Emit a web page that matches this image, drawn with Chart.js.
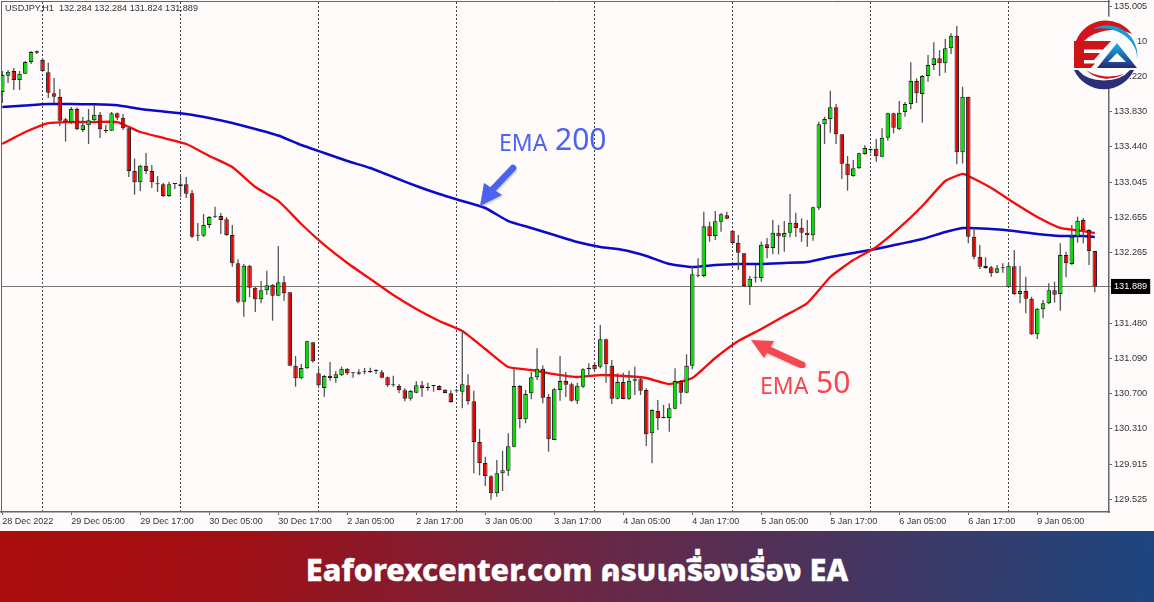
<!DOCTYPE html>
<html>
<head>
<meta charset="utf-8">
<title>USDJPY H1</title>
<script src="https://cdn.jsdelivr.net/npm/chart.js@4"></script>
<style>
  html, body { margin: 0; padding: 0; background: #fefbfa; overflow: hidden; }
  #stage { position: relative; width: 1154px; height: 602px; }
  #chartWrap { position: absolute; left: 0; top: 0; width: 1154px; height: 531px; }
  #info { position: absolute; left: 5px; top: 3px; font: 9.1px "Liberation Sans", sans-serif; color: #333; white-space: pre; }
  .note { position: absolute; font-family: "Noto Sans", sans-serif; white-space: pre; line-height: 1; }
  #overlay { position: absolute; left: 0; top: 0; }
  #banner {
    position: absolute; left: 0; top: 531px; width: 1154px; height: 71px;
    background: linear-gradient(95deg, #ab0d0d 0%, #a10f14 20%, #6f2541 48%, #1c4680 100%);
    color: #fff; font: 800 30.6px "Noto Sans", "Noto Sans Thai", "DejaVu Sans", sans-serif;
    -webkit-text-stroke: 0.4px #fff;
    text-align: center; line-height: 76px; white-space: pre;
  }
</style>
</head>
<body>
<div id="stage">
  <div id="chartWrap"><canvas id="chart" width="1154" height="531"></canvas></div>
  <div id="info">USDJPY,H1  132.284 132.284 131.824 131.889</div>
  <div class="note" style="left:499px;top:131px;color:#4a63f0;font-size:23px">EMA</div>
  <div class="note" style="left:555px;top:124px;color:#4a63f0;font-size:30px">200</div>
  <div class="note" style="left:760px;top:374px;color:#f8454f;font-size:23px">EMA</div>
  <div class="note" style="left:816px;top:367px;color:#f8454f;font-size:30px">50</div>
  <svg id="overlay" width="1154" height="602">
    <defs>
      <linearGradient id="aGrad" x1="0" y1="0" x2="0" y2="1">
        <stop offset="0" stop-color="#19b6e6"/>
        <stop offset="0.6" stop-color="#1c5fa8"/>
        <stop offset="1" stop-color="#26286e"/>
      </linearGradient>
      <filter id="soft"><feDropShadow dx="1" dy="1" stdDeviation="1" flood-color="#888" flood-opacity="0.5"/></filter>
    </defs>
    <g filter="url(#soft)" fill="#4a63f0">
      <line x1="513" y1="168" x2="493" y2="189" stroke="#4a63f0" stroke-width="6.5" stroke-linecap="round"/>
      <polygon points="480,206 484,183 502,195"/>
    </g>
    <g filter="url(#soft)" fill="#f54650">
      <line x1="802" y1="365" x2="769" y2="350" stroke="#f54650" stroke-width="7" stroke-linecap="round"/>
      <polygon points="751,340 774,341 764,358"/>
    </g>
    <circle cx="1102.5" cy="52" r="36" fill="#fefdfd"/>
    <path d="M1076 41 A32 32 0 0 1 1132 34 A38 31 0 0 0 1084 41 Z" fill="#d3141b"/>
    <path d="M1093 29 A30 30 0 0 1 1137 60 A36 30 0 0 0 1093 29 Z" fill="#1a9ad6"/>
    <path d="M1074 70 A33 33 0 0 0 1134 70 L1130 70 A30 21 0 0 1 1078 70 Z" fill="#2a2f78"/>
    <path d="M1086 70 A27 22 0 0 0 1124 74 A30 18 0 0 1 1086 70 Z" fill="#d3141b"/>
    <path d="M1074 41 H1111 L1103 49.5 H1084 V53 H1100 L1094 60 H1084 V63.5 H1095 L1091 68 H1074 Z" fill="#cf1418"/>
    <path d="M1117 43 L1137 68 H1097 Z M1117 53 L1108 62 H1126 Z" fill="url(#aGrad)" fill-rule="evenodd"/>
  </svg>
  <div id="banner">Eaforexcenter.com ครบเครื่องเรื่อง EA</div>
</div>

<script>
const open = [
  134.050,134.231,134.283,134.183,134.253,134.383,134.502,134.405,134.269,134.035,
  133.994,133.746,133.713,133.861,133.628,133.680,133.735,133.798,133.624,133.620,
  133.813,133.764,133.646,133.172,133.046,133.231,133.172,133.035,133.024,132.894,
  133.028,133.005,133.024,132.924,132.453,132.453,132.572,132.664,132.672,132.635,
  132.461,132.146,131.720,132.120,131.875,131.746,131.846,131.909,131.786,131.935,
  131.824,131.009,130.869,130.980,131.269,130.924,130.761,130.898,130.872,130.902,
  130.975,130.924,130.920,130.935,130.935,130.950,130.935,130.880,130.791,130.783,
  130.735,130.642,130.709,130.791,130.761,130.783,130.783,130.742,130.702,130.724,
  130.720,130.791,130.613,130.161,129.928,129.780,129.591,129.813,129.842,130.109,
  130.783,130.413,130.702,130.880,130.975,130.661,130.183,130.739,130.839,130.802,
  130.620,130.775,130.969,131.016,130.998,131.302,131.009,130.642,130.828,130.642,
  130.842,130.858,130.739,130.258,130.505,130.428,130.428,130.531,130.839,130.709,
  131.009,132.009,132.005,132.558,132.450,132.609,132.680,132.509,132.375,132.258,
  131.886,131.986,131.983,132.358,132.316,132.486,132.442,132.486,132.597,132.542,
  132.486,132.458,132.764,133.691,133.750,133.880,133.580,133.253,133.116,133.202,
  133.361,133.405,133.420,133.331,133.542,133.813,133.635,133.828,133.916,134.172,
  134.028,134.228,134.350,134.424,134.369,134.535,134.675,133.380,133.998,132.442,
  132.220,132.116,132.102,132.042,132.091,131.886,132.113,131.805,131.839,131.753,
  131.358,131.635,131.702,131.846,131.805,132.239,132.139,132.442,132.628,132.516,132.284
];
const high = [
  134.283,134.294,134.316,134.283,134.394,134.505,134.511,134.428,134.375,134.205,
  134.083,133.761,133.883,133.878,133.772,133.861,133.905,133.828,133.683,133.828,
  133.822,133.805,133.661,133.309,133.242,133.372,133.239,133.116,133.039,133.053,
  133.039,133.116,133.105,132.961,132.594,132.694,132.672,132.775,132.705,132.661,
  132.572,132.191,132.139,132.128,131.883,131.950,132.064,131.916,132.339,132.005,
  131.828,131.116,131.028,131.286,131.272,130.980,130.905,131.050,130.950,130.998,
  130.980,130.939,130.969,130.983,130.986,130.969,130.961,130.887,130.898,130.805,
  130.757,130.739,130.835,130.839,130.820,130.791,130.791,130.746,130.735,130.750,
  131.405,130.913,130.731,130.305,129.998,129.791,129.961,130.064,130.257,130.969,
  130.794,130.739,130.942,131.202,131.011,130.694,130.761,131.116,130.939,130.820,
  130.820,130.980,131.035,131.046,131.461,131.309,131.072,130.924,130.931,130.953,
  130.998,130.887,130.757,130.524,130.628,130.572,130.591,130.980,130.850,131.135,
  132.109,132.202,132.720,132.609,132.728,132.702,132.720,132.516,132.461,132.261,
  132.005,132.128,132.386,132.428,132.628,132.572,132.616,132.916,132.709,132.646,
  132.628,132.775,133.720,133.775,134.064,133.916,133.583,133.339,133.294,133.375,
  133.458,133.424,133.528,133.646,133.820,133.820,133.950,133.939,134.380,134.202,
  134.239,134.461,134.602,134.516,134.639,134.702,134.783,134.109,133.998,132.535,
  132.350,132.213,132.116,132.128,132.146,132.146,132.294,132.116,131.998,131.775,
  131.650,131.739,131.924,131.942,132.369,132.275,132.572,132.664,132.650,132.524,132.284
];
const low = [
  133.928,134.150,134.072,134.072,134.250,134.361,134.472,134.272,133.983,133.928,
  133.672,133.498,133.694,133.628,133.605,133.472,133.716,133.539,133.594,133.616,
  133.739,133.628,133.105,132.909,132.950,133.139,132.983,132.939,132.886,132.883,
  132.972,132.883,132.872,132.428,132.394,132.439,132.539,132.650,132.472,132.450,
  132.109,131.702,131.553,131.769,131.605,131.702,131.797,131.509,131.783,131.731,
  131.005,130.775,130.858,130.972,131.042,130.775,130.664,130.842,130.820,130.894,
  130.905,130.875,130.905,130.913,130.928,130.916,130.869,130.772,130.775,130.702,
  130.613,130.620,130.702,130.664,130.731,130.720,130.735,130.702,130.598,130.709,
  130.535,130.575,129.813,129.791,129.672,129.520,129.553,129.616,129.783,130.102,
  130.313,130.369,130.635,130.850,130.591,130.053,130.183,130.620,130.661,130.609,
  130.583,130.761,130.887,130.950,130.980,130.820,130.583,130.635,130.635,130.628,
  130.683,130.683,130.116,129.924,130.294,130.424,130.275,130.524,130.580,130.702,
  130.969,131.991,131.991,132.386,132.405,132.497,132.635,132.350,132.072,131.883,
  131.683,131.931,131.942,132.202,132.247,132.247,132.275,132.435,132.439,132.386,
  132.331,132.398,132.739,133.472,133.598,133.472,133.083,132.953,133.109,133.194,
  133.353,133.369,133.275,133.324,133.509,133.591,133.628,133.775,133.858,133.928,
  133.709,134.164,134.294,134.228,134.264,134.472,133.246,133.257,132.369,132.191,
  132.083,132.086,131.998,132.035,132.042,131.880,131.794,131.702,131.591,131.350,
  131.305,131.535,131.694,131.709,131.620,131.991,132.128,132.375,132.369,132.128,131.824
];
const close = [
  134.239,134.275,134.183,134.253,134.383,134.494,134.486,134.283,134.042,133.998,
  133.731,133.713,133.861,133.635,133.680,133.735,133.798,133.635,133.616,133.813,
  133.764,133.646,133.172,133.046,133.231,133.172,133.046,133.024,132.894,133.024,
  133.028,133.024,132.920,132.442,132.453,132.572,132.661,132.664,132.628,132.461,
  132.146,131.720,132.120,131.875,131.746,131.846,131.902,131.786,131.935,131.813,
  131.009,130.869,130.983,131.280,131.058,130.791,130.894,130.872,130.913,130.975,
  130.924,130.924,130.935,130.935,130.950,130.950,130.875,130.791,130.791,130.735,
  130.642,130.728,130.791,130.761,130.775,130.783,130.739,130.705,130.605,130.724,
  130.802,130.613,130.161,129.928,129.783,129.591,129.813,129.847,130.113,130.783,
  130.416,130.694,130.880,130.975,130.653,130.191,130.746,130.839,130.798,130.620,
  130.786,130.969,130.986,130.969,131.302,131.024,130.642,130.828,130.639,130.842,
  130.858,130.731,130.246,130.516,130.424,130.428,130.535,130.839,130.709,131.009,
  132.024,132.009,132.558,132.450,132.613,132.691,132.642,132.372,132.264,131.894,
  131.975,131.986,132.353,132.316,132.486,132.446,132.483,132.597,132.539,132.486,
  132.458,132.769,133.691,133.750,133.880,133.580,133.253,133.124,133.202,133.369,
  133.428,133.405,133.335,133.542,133.813,133.653,133.820,133.916,134.172,134.035,
  134.228,134.350,134.424,134.369,134.535,134.675,133.380,133.998,132.442,132.220,
  132.109,132.094,132.035,132.091,132.091,132.120,131.805,131.839,131.753,131.358,
  131.642,131.702,131.846,131.797,132.239,132.146,132.442,132.620,132.516,132.284,131.889
];

// bars the two EMA lines were read at
const emaBars = [
  0,4,8,12,16,20,24,28,32,36,40,44,48,52,56,60,64,68,72,76,80,84,88,92,96,
  100,104,108,112,116,120,124,128,132,136,140,144,148,152,156,160,164,167,168,172,176,180,184,188,190
];
const ema50 = [
  133.472,133.605,133.705,133.716,133.716,133.716,133.605,133.539,133.472,133.339,
  133.216,132.994,132.839,132.583,132.350,132.150,131.972,131.794,131.639,131.505,
  131.394,131.194,130.994,130.961,130.916,130.883,130.905,130.894,130.872,130.805,
  130.872,131.094,131.283,131.416,131.561,131.705,131.994,132.183,132.328,132.539,
  132.783,133.061,133.139,133.116,132.983,132.816,132.661,132.539,132.505,132.483
];
const ema200 = [
  133.883,133.900,133.916,133.916,133.913,133.902,133.861,133.833,133.805,133.761,
  133.705,133.639,133.566,133.461,133.372,133.283,133.205,133.105,133.005,132.916,
  132.839,132.761,132.616,132.539,132.461,132.383,132.328,132.294,132.228,132.139,
  132.105,132.128,132.139,132.139,132.150,132.161,132.216,132.261,132.305,132.361,
  132.416,132.494,132.539,132.539,132.528,132.505,132.472,132.450,132.450,132.439
];

const timeLabels = [
  "28 Dec 2022","29 Dec 05:00","29 Dec 17:00","30 Dec 05:00","30 Dec 17:00","2 Jan 05:00","2 Jan 17:00","3 Jan 05:00",
  "3 Jan 17:00","4 Jan 05:00","4 Jan 17:00","5 Jan 05:00","5 Jan 17:00","6 Jan 05:00","6 Jan 17:00","9 Jan 05:00"
];
const timeBars = [0,12,24,36,48,60,72,84,96,108,120,132,144,156,168,180];
const dayLineBars = [7,31,55,79,103,127,151,175];
const priceTicks = [135.005,134.610,134.220,133.830,133.440,133.045,132.655,132.265,131.889,131.480,131.090,130.700,130.310,129.915,129.525];
const lastPrice = 131.889;

const priceMin = 129.383, priceMax = 135.061;
const barMin = -0.226, barMax = 192.47;

Chart.defaults.font.family = '"Liberation Sans", sans-serif';
Chart.defaults.font.size = 9.2;
Chart.defaults.color = "#333";

function fixedBox(prop, size) {
  return function (scale) {
    scale[prop] = size;
    scale.paddingLeft = scale.paddingRight = scale.paddingTop = scale.paddingBottom = 0;
  };
}

const bars = open.map((_, i) => i);
const upColor = "#00e000", downColor = "#ee0000";

new Chart(document.getElementById("chart"), {
  type: "bar",
  data: {
    datasets: [
      {
        label: "Body",
        data: bars.map(i => ({ x: i, y: [open[i], close[i]] })),
        backgroundColor: bars.map(i => (close[i] >= open[i] ? upColor : downColor)),
        borderColor: "#1c1c1c",
        borderWidth: 1,
        borderSkipped: false,
        inflateAmount: 0,
        minBarLength: 1,
        maxBarThickness: 4.5,
        barPercentage: 1,
        categoryPercentage: 1,
        grouped: false,
        order: 1
      },
      {
        label: "Wick",
        data: bars.map(i => ({ x: i, y: [low[i], high[i]] })),
        backgroundColor: "#555",
        borderWidth: 0,
        inflateAmount: 0,
        maxBarThickness: 1.3,
        barPercentage: 1,
        categoryPercentage: 1,
        grouped: false,
        order: 2
      },
      {
        type: "line",
        label: "EMA 50",
        data: emaBars.map((b, i) => ({ x: b, y: ema50[i] })),
        borderColor: "#f60a0a",
        borderWidth: 2.3,
        pointRadius: 0,
        tension: 0.15,
        order: 3
      },
      {
        type: "line",
        label: "EMA 200",
        data: emaBars.map((b, i) => ({ x: b, y: ema200[i] })),
        borderColor: "#0a0ac8",
        borderWidth: 2.5,
        pointRadius: 0,
        tension: 0.15,
        order: 4
      }
    ]
  },
  options: {
    responsive: false,
    animation: false,
    layout: { padding: { left: 1, top: 1, right: 0, bottom: 0 } },
    plugins: { legend: { display: false }, tooltip: { enabled: false } },
    scales: {
      x: {
        type: "linear",
        position: "bottom",
        offset: false,
        min: barMin,
        max: barMax,
        afterBuildTicks: s => { s.ticks = timeBars.map(v => ({ value: v })); },
        afterFit: fixedBox("height", 19),
        grid: { offset: false, drawOnChartArea: false, tickLength: 3, tickColor: "#666" },
        border: { color: "#666", width: 1.5 },
        ticks: {
          autoSkip: false,
          maxRotation: 0,
          align: "start",
          padding: 1,
          font: { size: 9 },
          callback: (v, i) => timeLabels[i]
        }
      },
      xTop: {
        type: "linear",
        position: "top",
        offset: false,
        min: barMin,
        max: barMax,
        afterBuildTicks: s => { s.ticks = dayLineBars.map(v => ({ value: v })); },
        afterFit: fixedBox("height", 0),
        grid: { offset: false, color: "#444", drawTicks: false },
        border: { color: "#666", dash: [2, 2] },
        ticks: { display: false }
      },
      y: {
        type: "linear",
        position: "right",
        min: priceMin,
        max: priceMax,
        afterBuildTicks: s => { s.ticks = priceTicks.map(v => ({ value: v })); },
        afterFit: fixedBox("width", 45),
        grid: {
          color: c => (c.tick && c.tick.value === lastPrice ? "#777" : "transparent"),
          tickColor: "#666",
          tickLength: 3
        },
        border: { color: "#666", width: 1.5 },
        ticks: {
          padding: 2,
          autoSkip: false,
          callback: v => v.toFixed(3),
          color: c => (c.tick && c.tick.value === lastPrice ? "#fff" : "#333"),
          showLabelBackdrop: c => !!(c.tick && c.tick.value === lastPrice),
          backdropColor: "#000",
          backdropPadding: { x: 3, y: 2 }
        }
      },
      yLeft: {
        type: "linear",
        position: "left",
        min: priceMin,
        max: priceMax,
        afterFit: fixedBox("width", 0),
        grid: { drawOnChartArea: false, drawTicks: false },
        border: { color: "#666" },
        ticks: { display: false }
      }
    }
  }
});
</script>
</body>
</html>
